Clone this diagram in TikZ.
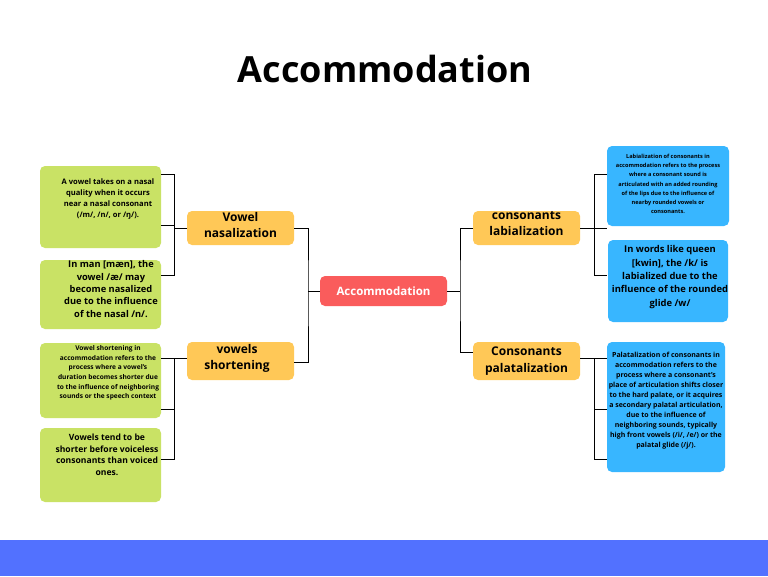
\documentclass[tikz,border=0pt]{standalone}
\usepackage{fontspec}
\setmainfont{Open Sans}
\definecolor{gr}{HTML}{C9E265}
\definecolor{og}{HTML}{FFC857}
\definecolor{rd}{HTML}{FA5C5C}
\definecolor{bl}{HTML}{38B6FF}
\definecolor{ft}{HTML}{5271FF}
\begin{document}
\begin{tikzpicture}[x=1pt,y=-1pt,
 ln/.style={line width=0.8pt}]
\useasboundingbox (0,0) rectangle (768,576);
\fill[white] (0,0) rectangle (768,576);
\fill[ft] (0,540) rectangle (768,576);
\node[font=\bfseries\fontsize{36}{40}\selectfont] (title) at (385,69) {Accommodation};
\fill[rd,rounded corners=5pt] (320,276) rectangle (447,306);
\node[font=\bfseries\fontsize{11.5}{13}\selectfont,text=white] (c) at (383.5,291) {Accommodation};
\fill[og,rounded corners=5pt] (187,211) rectangle (294,245);
\node[font=\bfseries\fontsize{12}{15.5}\selectfont,align=center] (vn) at (240.5,225) {Vowel\\nasalization};
\fill[og,rounded corners=5pt] (187,342) rectangle (294,380);
\node[font=\bfseries\fontsize{12}{16}\selectfont,align=center] (vs) at (237,358) {vowels\\shortening};
\fill[og,rounded corners=5pt] (473,211) rectangle (580,245);
\node[font=\bfseries\fontsize{12}{16}\selectfont,align=center] (cl) at (526.5,224) {consonants\\labialization};
\fill[og,rounded corners=5pt] (473,342) rectangle (580,380);
\node[font=\bfseries\fontsize{12}{17}\selectfont,align=center] (cp) at (526.5,361) {Consonants\\palatalization};
% green
\fill[gr,rounded corners=5pt] (40,166) rectangle (161,248);
\node[font=\bfseries\fontsize{7.6}{10.8}\selectfont,align=center] (g1) at (108,199) {A vowel takes on a nasal\\quality when it occurs\\near a nasal consonant\\(/m/, /n/, or /ŋ/).};
\fill[gr,rounded corners=5pt] (40,260) rectangle (161,329);
\node[font=\bfseries\fontsize{9.3}{12.3}\selectfont,align=center] (g2) at (111,289) {In man [mæn], the\\vowel /æ/ may\\become nasalized\\due to the influence\\of the nasal /n/.};
\fill[gr,rounded corners=5pt] (40,343) rectangle (161,418);
\node[font=\bfseries\fontsize{6.6}{9.6}\selectfont,align=center] (g3) at (108,373) {Vowel shortening in\\accommodation refers to the\\process where a vowel's\\duration becomes shorter due\\to the influence of neighboring\\sounds or the speech context};
\fill[gr,rounded corners=5pt] (40,428) rectangle (161,502);
\node[font=\bfseries\fontsize{8.6}{11.5}\selectfont,align=center] (g4) at (107,455) {Vowels tend to be\\shorter before voiceless\\consonants than voiced\\ones.};
% blue
\fill[bl,rounded corners=5pt] (607,146) rectangle (729,226);
\node[font=\bfseries\fontsize{5.6}{9.2}\selectfont,align=center] (b1) at (668,184) {Labialization of consonants in\\accommodation refers to the process\\where a consonant sound is\\articulated with an added rounding\\of the lips due to the influence of\\nearby rounded vowels or\\consonants.};
\fill[bl,rounded corners=5pt] (608,240) rectangle (728,322);
\node[font=\bfseries\fontsize{9.4}{13.3}\selectfont,align=center] (b2) at (670,277) {In words like queen\\{}[kwin], the /k/ is\\labialized due to the\\influence of the rounded\\glide /w/};
\fill[bl,rounded corners=5pt] (607,342) rectangle (725,472);
\node[font=\bfseries\fontsize{7}{10}\selectfont,align=center] (b3) at (666,401) {Palatalization of consonants in\\accommodation refers to the\\process where a consonant's\\place of articulation shifts closer\\to the hard palate, or it acquires\\a secondary palatal articulation,\\due to the influence of\\neighboring sounds, typically\\high front vowels (/i/, /e/) or the\\palatal glide (/j/).};
% connectors
\coordinate (L) at (308,291); \coordinate (R) at (460,291);
\draw[ln] (320,291) -- (L);
\draw[ln] (294,228) -| (L) |- (294,362);
\draw[ln] (447,291) -- (R);
\draw[ln] (473,228) -| (R) |- (473,352);
\draw[ln] (187,228) -- (174,228);
\draw[ln] (161,174) -| (174,275) -- (161,275);
\draw[ln] (161,225) -- (174,225);
\draw[ln] (187,358) -- (174,358);
\draw[ln] (161,358) -| (174,459) -- (161,459);
\draw[ln] (161,409) -- (174,409);
\draw[ln] (580,228) -- (607,228);
\draw[ln] (607,174) -| (594,275) -- (607,275);
\draw[ln] (580,358) -- (594,358);
\draw[ln] (607,358) -| (594,459) -- (607,459);
\draw[ln] (594,409) -- (607,409);
\end{tikzpicture}
\end{document}
